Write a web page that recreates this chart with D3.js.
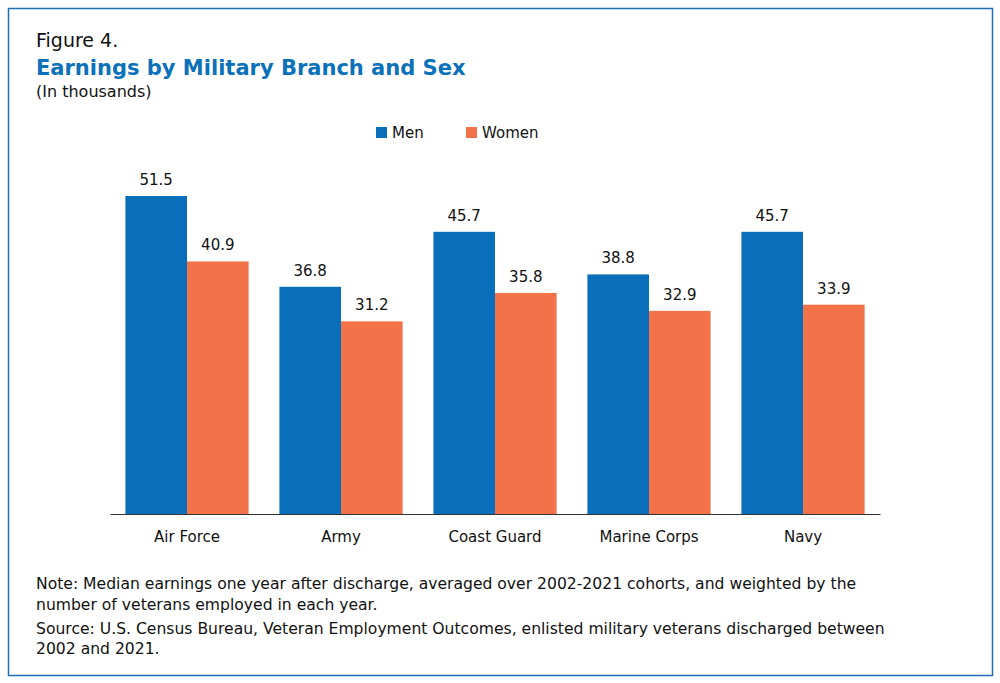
<!DOCTYPE html>
<html><head><meta charset="utf-8">
<script src="https://cdn.jsdelivr.net/npm/d3@7"></script>
<style>body{margin:0;background:#fff}text{font-family:"DejaVu Sans",sans-serif}</style>
</head><body><svg id="c" width="1000" height="683"></svg>
<script>
const categories=["Air Force","Army","Coast Guard","Marine Corps","Navy"];
const men=[51.5,36.8,45.7,38.8,45.7];
const women=[40.9,31.2,35.8,32.9,33.9];
const seriesNames=["Men","Women"];
const colors=["#0a6fba","#f2734a"];
const svg=d3.select("#c");
svg.append("rect").attr("x",8.5).attr("y",8.5).attr("width",984).attr("height",667).attr("fill","none").attr("stroke","#1f6db3").attr("stroke-width",1.5);
svg.append("text").attr("x",36).attr("y",47).attr("font-size",19).attr("fill","#111").text("Figure 4.");
svg.append("text").attr("x",36).attr("y",75).attr("font-size",21).attr("font-weight",700).attr("fill","#0b71b9").text("Earnings by Military Branch and Sex");
svg.append("text").attr("x",36).attr("y",97).attr("font-size",16).attr("fill","#111").text("(In thousands)");
const x=d3.scaleBand().domain(categories).range([110,880]).paddingInner(0.2).paddingOuter(0.1);
const y=d3.scaleLinear().domain([0,51.5]).range([514,196]);
const x1=d3.scaleBand().domain(seriesNames).range([0,x.bandwidth()]);
const data=categories.map((c,i)=>({c,v:[men[i],women[i]]}));
const g=svg.append("g");
data.forEach(d=>{d.v.forEach((v,j)=>{
 const bx=x(d.c)+x1(seriesNames[j]);
 g.append("rect").attr("x",bx).attr("y",y(v)).attr("width",x1.bandwidth()).attr("height",y(0)-y(v)).attr("fill",colors[j]);
 g.append("text").attr("x",bx+x1.bandwidth()/2).attr("y",y(v)-11).attr("text-anchor","middle").attr("font-size",15).attr("fill","#111").text(v.toFixed(1));
});});
const ax=svg.append("g").attr("transform","translate(0,514)").call(d3.axisBottom(x).tickSize(0).tickPadding(17));
ax.select(".domain").attr("stroke","#333");
ax.selectAll("text").attr("font-size",15).attr("fill","#111").style("font-family","DejaVu Sans");
const leg=svg.append("g");
[[376,"Men"],[466,"Women"]].forEach(([lx,n],j)=>{
 leg.append("rect").attr("x",lx).attr("y",127).attr("width",11).attr("height",11).attr("fill",colors[j]);
 leg.append("text").attr("x",lx+16).attr("y",138).attr("font-size",15).attr("fill","#111").text(n);
});
const notes=["Note: Median earnings one year after discharge, averaged over 2002-2021 cohorts, and weighted by the","number of veterans employed in each year.","Source: U.S. Census Bureau, Veteran Employment Outcomes, enlisted military veterans discharged between","2002 and 2021."];
[589,610,634,654].forEach((yy,i)=>svg.append("text").attr("x",36).attr("y",yy).attr("font-size",15.6).attr("fill","#111").text(notes[i]));
</script></body></html>
